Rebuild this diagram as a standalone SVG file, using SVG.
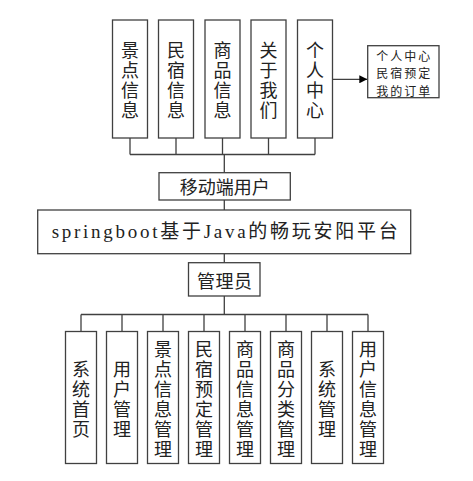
<svg xmlns="http://www.w3.org/2000/svg" width="473" height="481" viewBox="0 0 473 481">
<style>
.box{fill:#ffffff;stroke:#404040;stroke-width:1.3}
.ln{fill:none;stroke:#404040;stroke-width:1.3}
.t{font-family:"Noto Sans CJK SC","Liberation Serif",serif;font-size:18px;fill:#222;text-anchor:middle;dominant-baseline:central}
.s{font-family:"Noto Sans CJK SC","Liberation Sans",sans-serif;font-size:12px;letter-spacing:2px;fill:#222;text-anchor:middle;dominant-baseline:central}
.m{font-family:"Liberation Serif","Noto Sans CJK SC",serif;font-size:19px;fill:#222;dominant-baseline:central}
</style>
<defs>
<marker id="arr" viewBox="0 0 10 10" refX="10" refY="5" markerWidth="9" markerHeight="8" markerUnits="userSpaceOnUse" orient="auto">
<path d="M0,0 L10,5 L0,10 Z" fill="#000"/>
</marker>
</defs>
<rect width="473" height="481" fill="#fff"/>
<g id="connectors">
<path class="ln" d="M130,138 V154.5 M176,138 V154.5 M222.5,138 V154.5 M268.5,138 V154.5 M315,138 V154.5 M130,154.5 H315"/>
<path class="ln" d="M224.3,154.5 V172.7"/>
<path class="ln" d="M224.3,200 V210"/>
<path class="ln" d="M224.3,253.7 V262.7"/>
<path class="ln" d="M224.3,296 V314.5"/>
<path class="ln" d="M81,314.5 H368 M81,314.5 V331.5 M122,314.5 V331.5 M163,314.5 V331.5 M204,314.5 V331.5 M245,314.5 V331.5 M286,314.5 V331.5 M327,314.5 V331.5 M368,314.5 V331.5"/>
<path class="ln" d="M332.5,79.3 H367.3" stroke="#000" marker-end="url(#arr)"/>
</g>
<g id="n-jingdian">
<rect class="box" x="112.5" y="20" width="35" height="118"/>
<text class="t"><tspan x="130" y="49">景</tspan><tspan x="130" y="69">点</tspan><tspan x="130" y="89">信</tspan><tspan x="130" y="109">息</tspan></text>
</g>
<g id="n-minsu">
<rect class="box" x="158.5" y="20" width="35" height="118"/>
<text class="t"><tspan x="176" y="49">民</tspan><tspan x="176" y="69">宿</tspan><tspan x="176" y="89">信</tspan><tspan x="176" y="109">息</tspan></text>
</g>
<g id="n-shangpin">
<rect class="box" x="205" y="20" width="35" height="118"/>
<text class="t"><tspan x="222.5" y="49">商</tspan><tspan x="222.5" y="69">品</tspan><tspan x="222.5" y="89">信</tspan><tspan x="222.5" y="109">息</tspan></text>
</g>
<g id="n-guanyu">
<rect class="box" x="251" y="20" width="35" height="118"/>
<text class="t"><tspan x="268.5" y="49">关</tspan><tspan x="268.5" y="69">于</tspan><tspan x="268.5" y="89">我</tspan><tspan x="268.5" y="109">们</tspan></text>
</g>
<g id="n-geren">
<rect class="box" x="297.5" y="20" width="35" height="118"/>
<text class="t"><tspan x="315" y="49">个</tspan><tspan x="315" y="69">人</tspan><tspan x="315" y="89">中</tspan><tspan x="315" y="109">心</tspan></text>
</g>
<g id="n-geren-detail">
<rect class="box" x="367.7" y="45.7" width="71.3" height="52"/>
<text class="s"><tspan x="404.3" y="54.5">个人中心</tspan><tspan x="404.3" y="72">民宿预定</tspan><tspan x="404.3" y="89.5">我的订单</tspan></text>
</g>
<g id="n-mobile">
<rect class="box" x="159" y="172.7" width="131.3" height="27.3"/>
<text class="t" x="224.7" y="186.3">移动端用户</text>
</g>
<g id="n-main">
<rect class="box" x="37.7" y="210" width="373" height="43.7"/>
<text class="m" x="51.7" y="231.8" textLength="346" lengthAdjust="spacing">springboot基于Java的畅玩安阳平台</text>
</g>
<g id="n-admin">
<rect class="box" x="188.5" y="262.7" width="71.5" height="33.3"/>
<text class="t" x="224.7" y="279.5" letter-spacing="0.5">管理员</text>
</g>
<g id="n-b1">
<rect class="box" x="65.5" y="331.5" width="31" height="132"/>
<text class="t"><tspan x="81" y="368">系</tspan><tspan x="81" y="388">统</tspan><tspan x="81" y="408">首</tspan><tspan x="81" y="428">页</tspan></text>
</g>
<g id="n-b2">
<rect class="box" x="106.5" y="331.5" width="31" height="132"/>
<text class="t"><tspan x="122" y="368">用</tspan><tspan x="122" y="388">户</tspan><tspan x="122" y="408">管</tspan><tspan x="122" y="428">理</tspan></text>
</g>
<g id="n-b3">
<rect class="box" x="147.5" y="331.5" width="31" height="132"/>
<text class="t"><tspan x="163" y="348">景</tspan><tspan x="163" y="368">点</tspan><tspan x="163" y="388">信</tspan><tspan x="163" y="408">息</tspan><tspan x="163" y="428">管</tspan><tspan x="163" y="448">理</tspan></text>
</g>
<g id="n-b4">
<rect class="box" x="188.5" y="331.5" width="31" height="132"/>
<text class="t"><tspan x="204" y="348">民</tspan><tspan x="204" y="368">宿</tspan><tspan x="204" y="388">预</tspan><tspan x="204" y="408">定</tspan><tspan x="204" y="428">管</tspan><tspan x="204" y="448">理</tspan></text>
</g>
<g id="n-b5">
<rect class="box" x="229.5" y="331.5" width="31" height="132"/>
<text class="t"><tspan x="245" y="348">商</tspan><tspan x="245" y="368">品</tspan><tspan x="245" y="388">信</tspan><tspan x="245" y="408">息</tspan><tspan x="245" y="428">管</tspan><tspan x="245" y="448">理</tspan></text>
</g>
<g id="n-b6">
<rect class="box" x="270.5" y="331.5" width="31" height="132"/>
<text class="t"><tspan x="286" y="348">商</tspan><tspan x="286" y="368">品</tspan><tspan x="286" y="388">分</tspan><tspan x="286" y="408">类</tspan><tspan x="286" y="428">管</tspan><tspan x="286" y="448">理</tspan></text>
</g>
<g id="n-b7">
<rect class="box" x="311.5" y="331.5" width="31" height="132"/>
<text class="t"><tspan x="327" y="368">系</tspan><tspan x="327" y="388">统</tspan><tspan x="327" y="408">管</tspan><tspan x="327" y="428">理</tspan></text>
</g>
<g id="n-b8">
<rect class="box" x="352.5" y="331.5" width="31" height="132"/>
<text class="t"><tspan x="368" y="348">用</tspan><tspan x="368" y="368">户</tspan><tspan x="368" y="388">信</tspan><tspan x="368" y="408">息</tspan><tspan x="368" y="428">管</tspan><tspan x="368" y="448">理</tspan></text>
</g>
</svg>
